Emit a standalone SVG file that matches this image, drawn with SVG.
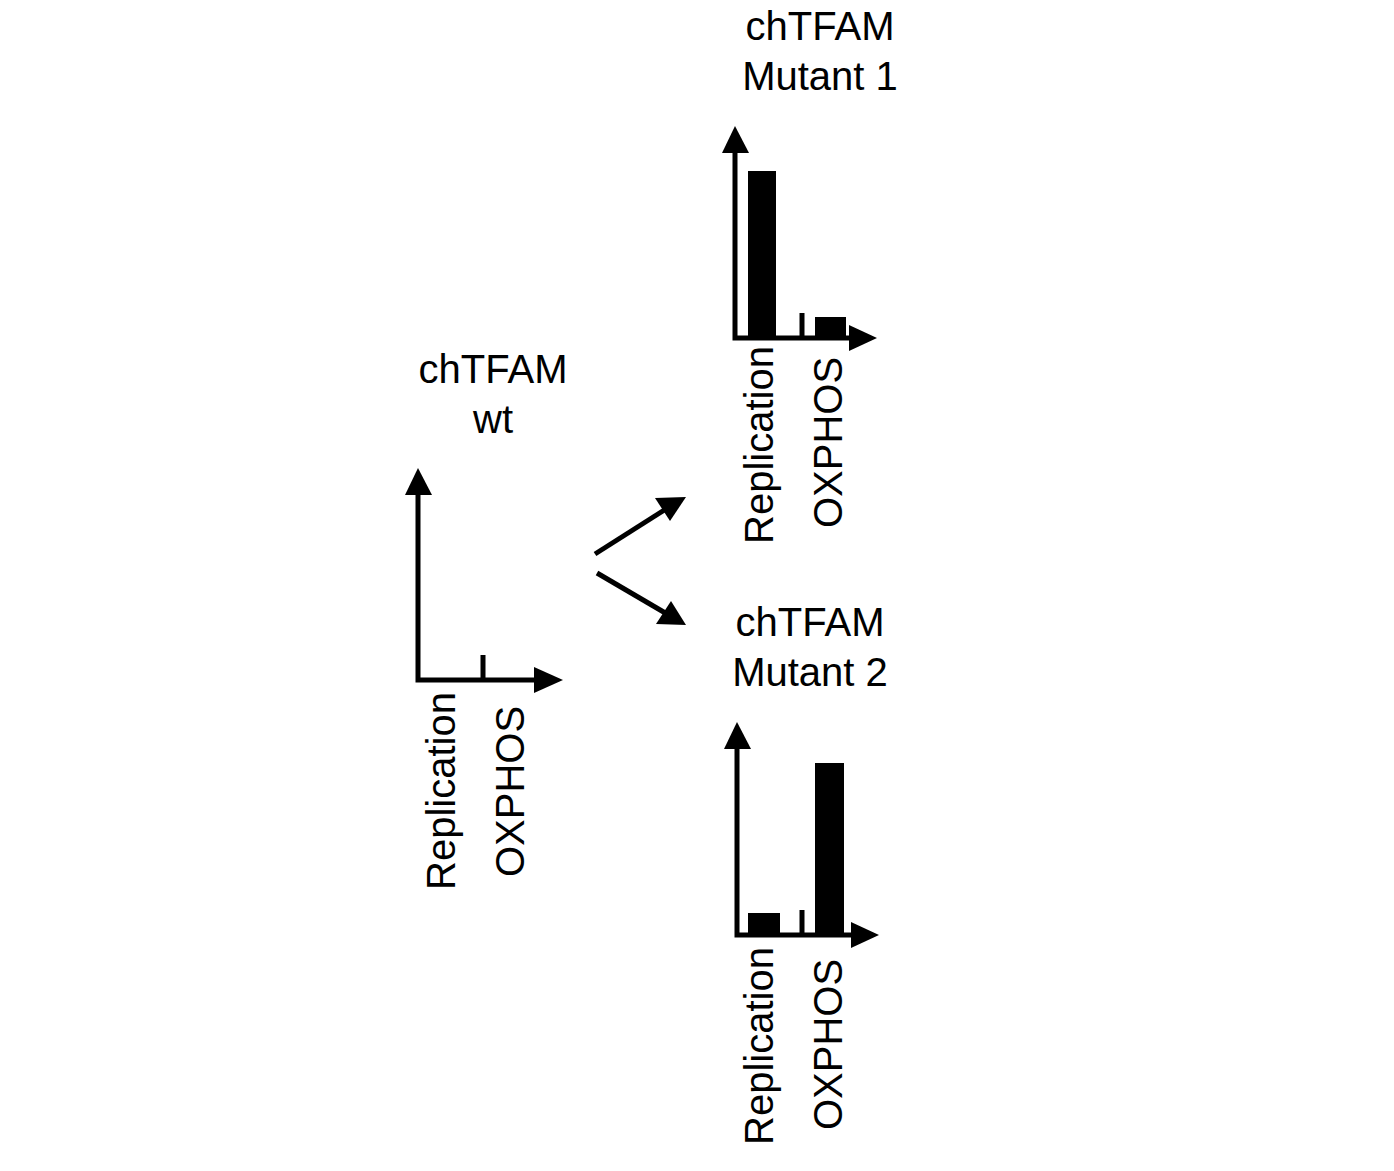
<svg xmlns="http://www.w3.org/2000/svg" width="1394" height="1171" viewBox="0 0 1394 1171">
<style>
text{font-family:"Liberation Sans",Arial,sans-serif;font-size:40px;fill:#000}
.t{text-anchor:middle}
.ax{stroke:#000;stroke-width:5;fill:none}
.hd{fill:#000}
</style>
<rect width="1394" height="1171" fill="#fff"/>
<g id="wt">
<text class="t" x="493" y="383">chTFAM</text>
<text class="t" x="493" y="433">wt</text>
<path class="ax" d="M418,492 V680 H536 M483,655 V680"/>
<polygon class="hd" points="418,468 405,495 432,495"/>
<polygon class="hd" points="563,680 534,667 534,693"/>
<text transform="translate(455,890) rotate(-90)">Replication</text>
<text transform="translate(524,877) rotate(-90)">OXPHOS</text>
</g>
<g id="mutant1">
<text class="t" x="820" y="40">chTFAM</text>
<text class="t" x="820" y="90">Mutant 1</text>
<rect x="748" y="171" width="28" height="167"/>
<rect x="815" y="317" width="31" height="21"/>
<path class="ax" d="M735,150 V338 H851 M802,313 V338"/>
<polygon class="hd" points="735,126 722,153 749,153"/>
<polygon class="hd" points="877,338 849,325 849,351"/>
<text transform="translate(773,544) rotate(-90)">Replication</text>
<text transform="translate(842,528) rotate(-90)">OXPHOS</text>
</g>
<g id="mutant2">
<text class="t" x="810" y="636">chTFAM</text>
<text class="t" x="810" y="686">Mutant 2</text>
<rect x="748" y="913" width="32" height="22"/>
<rect x="815" y="763" width="29" height="172"/>
<path class="ax" d="M737,746 V935 H853 M802,910 V935"/>
<polygon class="hd" points="737,722 724,749 751,749"/>
<polygon class="hd" points="879,935 851,922 851,948"/>
<text transform="translate(773,1145) rotate(-90)">Replication</text>
<text transform="translate(842,1130) rotate(-90)">OXPHOS</text>
</g>
<g id="connectors">
<line class="ax" x1="595" y1="554" x2="666" y2="509"/>
<polygon class="hd" points="686,497 655,498 670,521"/>
<line class="ax" x1="597" y1="573" x2="667" y2="614"/>
<polygon class="hd" points="686,625 671,601 656,624"/>
</g>
</svg>
